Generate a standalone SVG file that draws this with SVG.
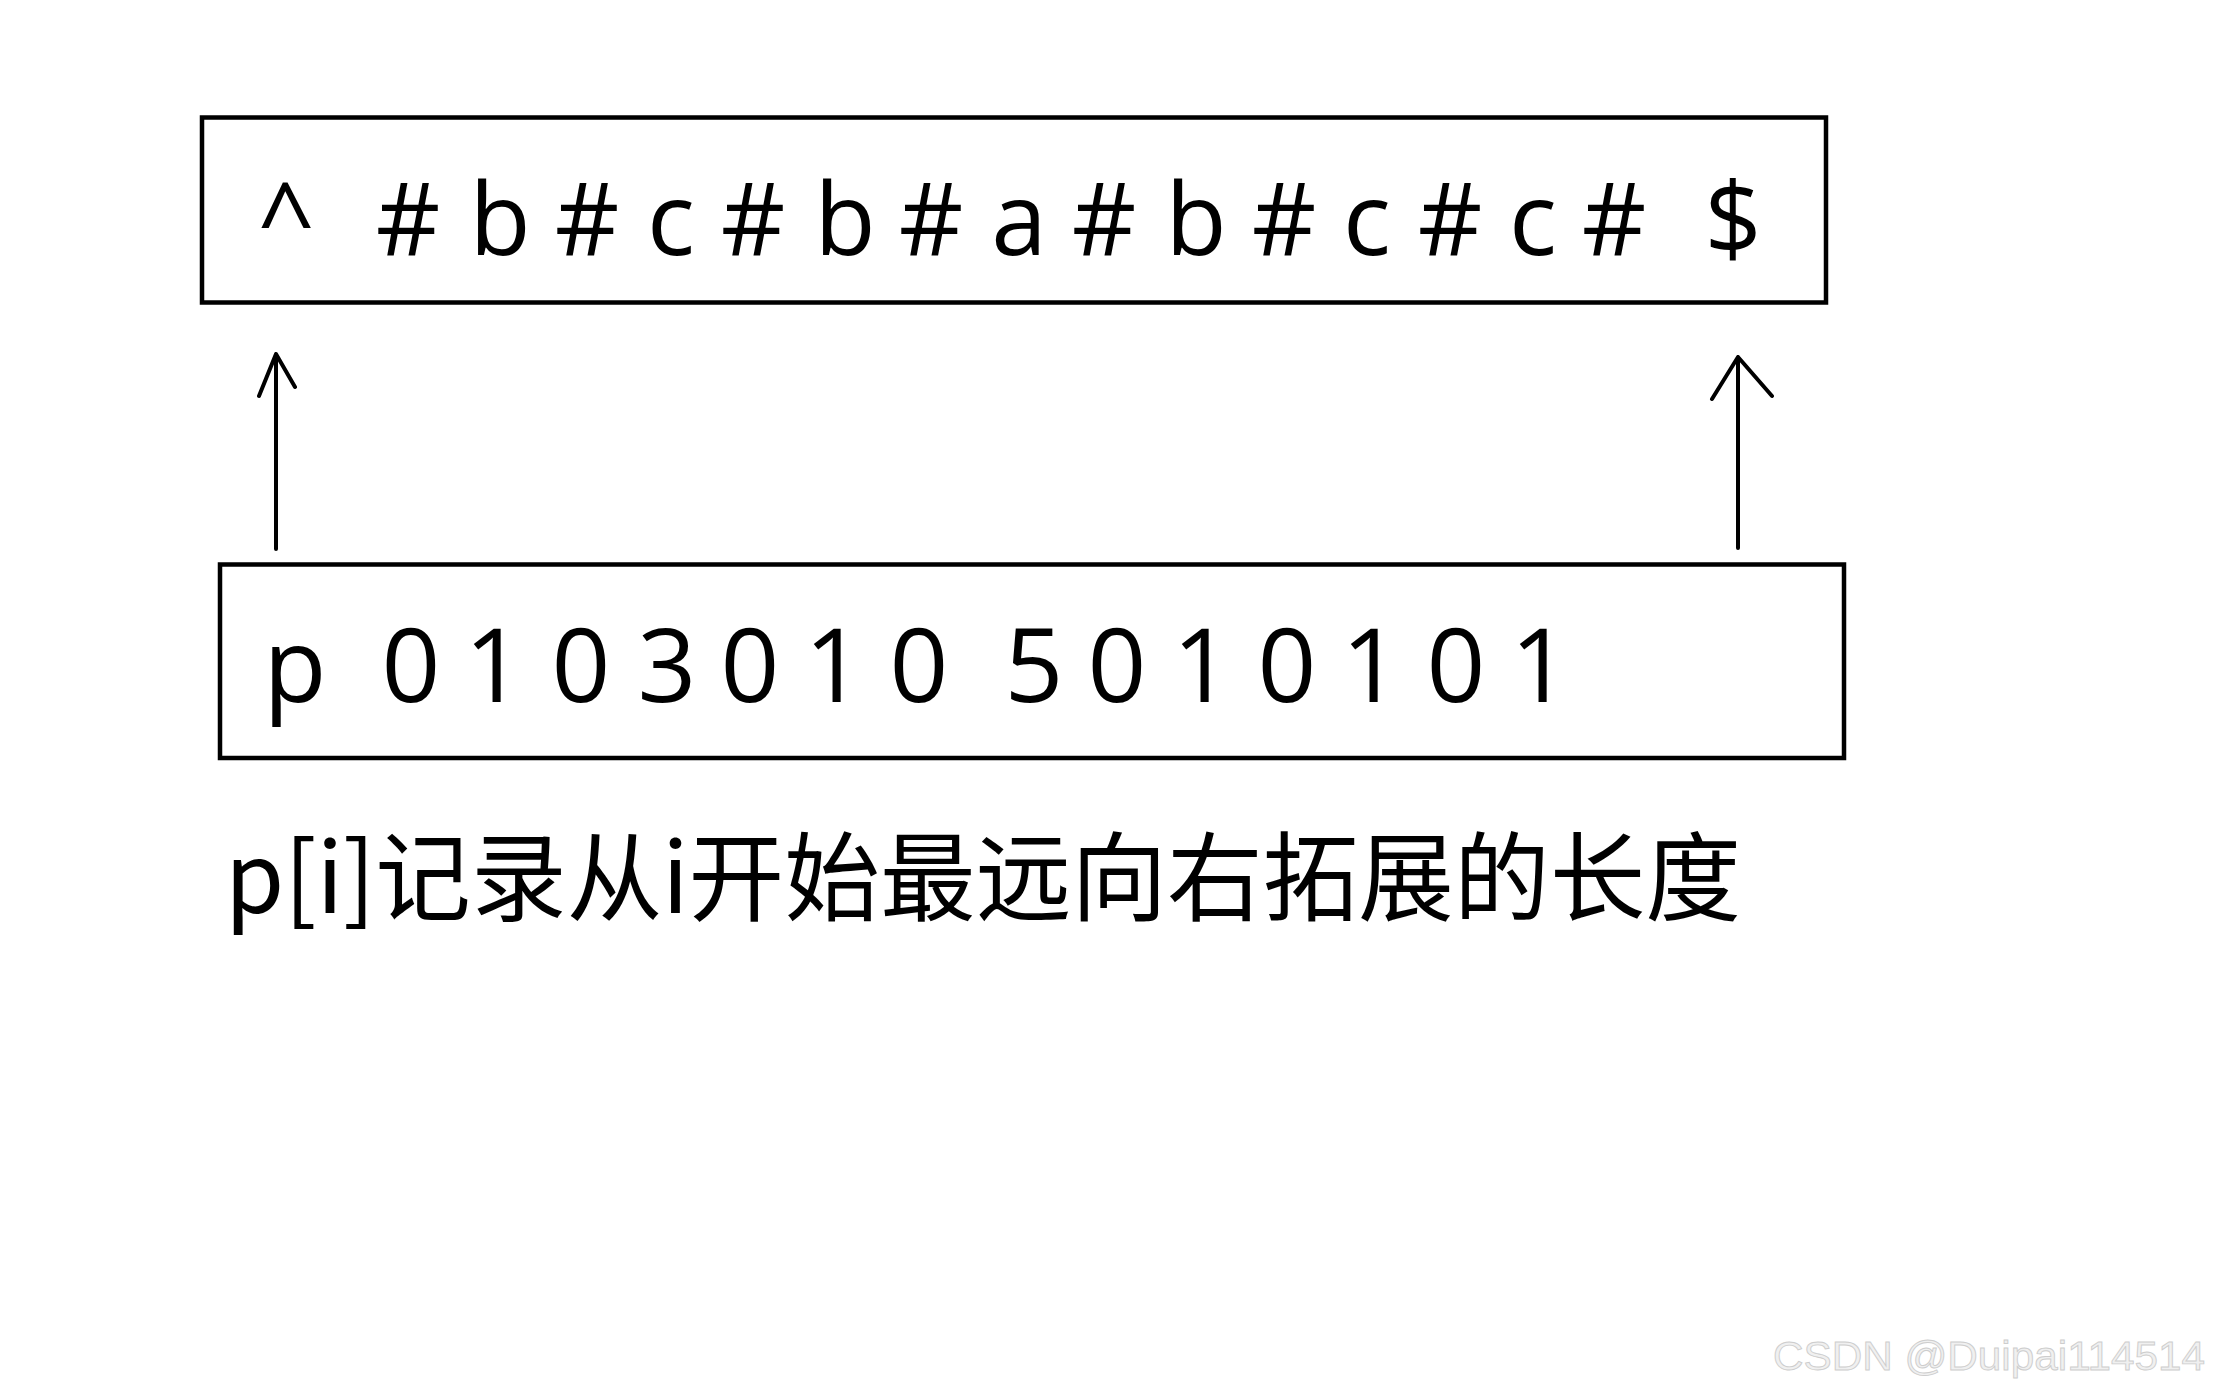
<svg xmlns="http://www.w3.org/2000/svg" width="2213" height="1393" viewBox="0 0 2213 1393">
<style>
.box{fill:none;stroke:#000;stroke-width:4.5}
.lat{font-family:"Open Sans","Noto Sans",sans-serif;fill:#000;text-anchor:middle}
.cjk{font-family:"Noto Sans CJK SC",sans-serif;fill:#000;font-size:97px}
.arr{fill:none;stroke:#000;stroke-width:4;stroke-linecap:round;stroke-linejoin:round}
.wm{font-family:"Liberation Sans",Arial,sans-serif;font-size:41px;fill:#f0f0f0;stroke:#cdcdcd;stroke-width:0.9}
</style>
<rect width="2213" height="1393" fill="#fff"/>
<g id="node-string">
<rect class="box" x="202" y="117.5" width="1624" height="185"/>
<text class="lat" font-size="100" y="255" x="286 408 500 587 671 753 845 931 1019 1104 1196 1284 1367 1450 1533 1614 1733">^#b#c#b#a#b#c#c#$</text>
</g>
<g id="node-p">
<rect class="box" x="220" y="564.5" width="1624" height="193.5"/>
<text class="lat" font-size="103" y="702" x="295 411 494 581 667 750 834 919 1034 1117 1202 1287 1371 1456 1540">p01030105010101</text>
</g>
<g id="connectors">
<path class="arr" d="M276 549 V354 M259 396 L276 354 L295 387"/>
<path class="arr" d="M1738 548 V357 M1712 399 L1738 357 L1772 396"/>
</g>
<g id="caption">
<text class="cjk" x="225" y="913" textLength="1516" lengthAdjust="spacingAndGlyphs">p[i]记录从i开始最远向右拓展的长度</text>
</g>
<g id="watermark">
<text class="wm" x="1773" y="1370" textLength="432" lengthAdjust="spacingAndGlyphs">CSDN @Duipai114514</text>
</g>
</svg>
